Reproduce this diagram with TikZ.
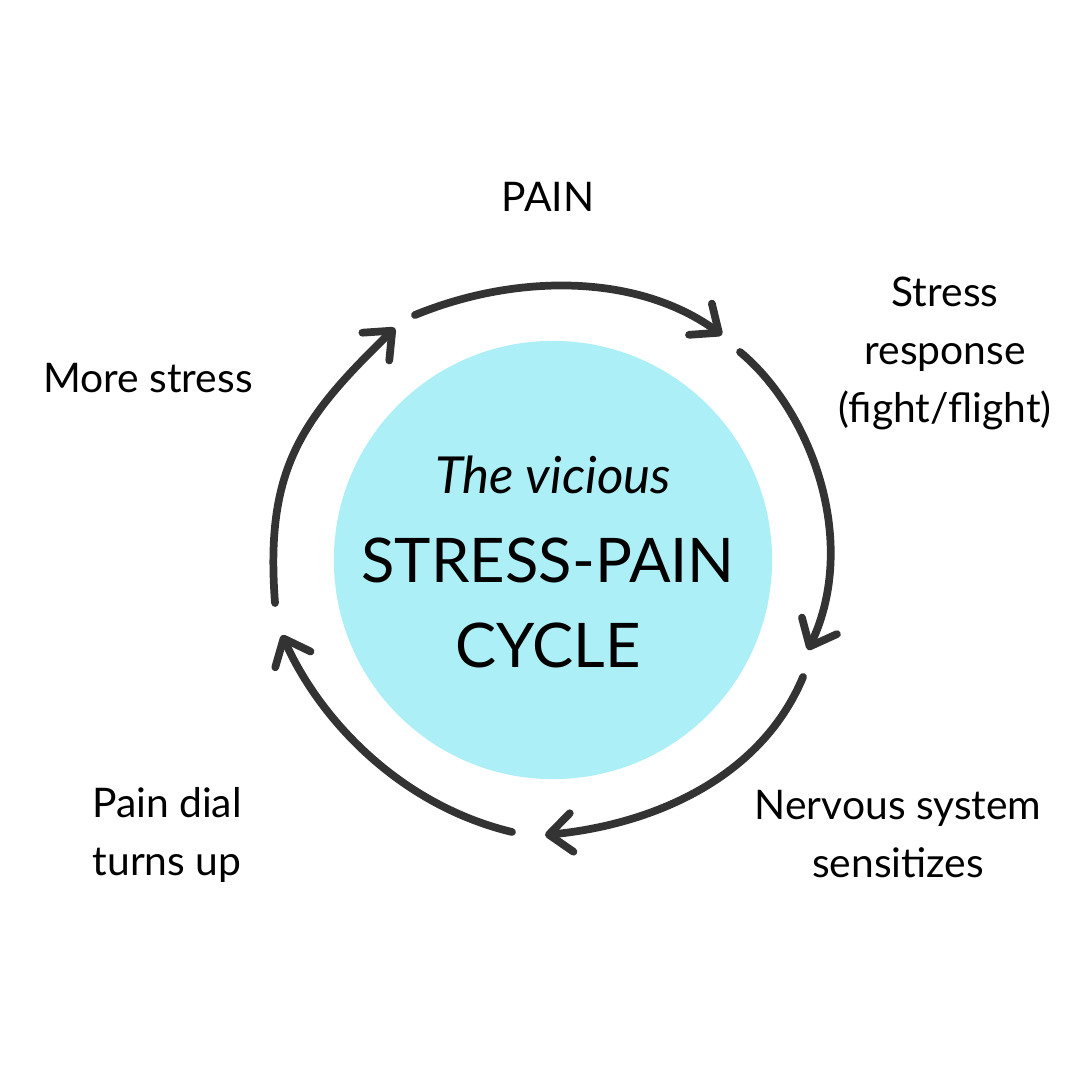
\documentclass[tikz,border=0pt]{standalone}
\usepackage{fontspec}
\setmainfont{Lato}
\usetikzlibrary{arrows.meta}
\definecolor{cyclefill}{HTML}{ADEFF6}
\definecolor{arrowgray}{HTML}{333333}

\begin{document}
\begin{tikzpicture}[
  x=0.01cm, y=-0.01cm,
  every node/.style={font=\fontsize{11.6}{16.5}\selectfont, align=center, text=black},
  hub/.style={circle, fill=cyclefill, minimum size=4.38cm, inner sep=0pt},
  arr/.style={draw=arrowgray, line width=2.2pt, line cap=round,
    -{Straight Barb[length=6.5pt, width=11pt, round]}}
]
\useasboundingbox (0,0) rectangle (1080,1080);

\node[hub] (cycle) at (553,560) {};
\node (vicious) at (553,475) {\fontsize{14.5}{18}\selectfont\rmfamily\itshape The vicious};
\node[font=\fontsize{17.5}{24}\selectfont] (title) at (548,603) {STRESS-PAIN\\CYCLE};

\node (pain) at (548,197) {PAIN};
\node (stress) at (945,353) {Stress\\response\\(fight/flight)};
\node (nervous) at (898,834) {Nervous system\\sensitizes};
\node (dial) at (167,835) {Pain dial\\turns up};
\node (more) at (148,378) {More stress};

% arrow ends round the ring
\coordinate (a1) at (415,315);
\coordinate (b1) at (722,335);
\coordinate (a2) at (740,352);
\coordinate (b2) at (808,650);
\coordinate (a3) at (803,677);
\coordinate (b3) at (545,835);
\coordinate (a4) at (512,832);
\coordinate (b4) at (282,635);
\coordinate (a5) at (275,603);
\coordinate (b5) at (395,328);

\draw[arr] (a1) .. controls (520,272) and (640,275) .. (b1);
\draw[arr] (a2) .. controls (810,410) and (860,540) .. (b2);
\draw[arr] (a3) .. controls (760,780) and (650,825) .. (b3);
\draw[arr] (a4) .. controls (400,805) and (320,720) .. (b4);
\draw[arr] (a5) .. controls (265,470) and (300,420) .. (b5);
\end{tikzpicture}
\end{document}
